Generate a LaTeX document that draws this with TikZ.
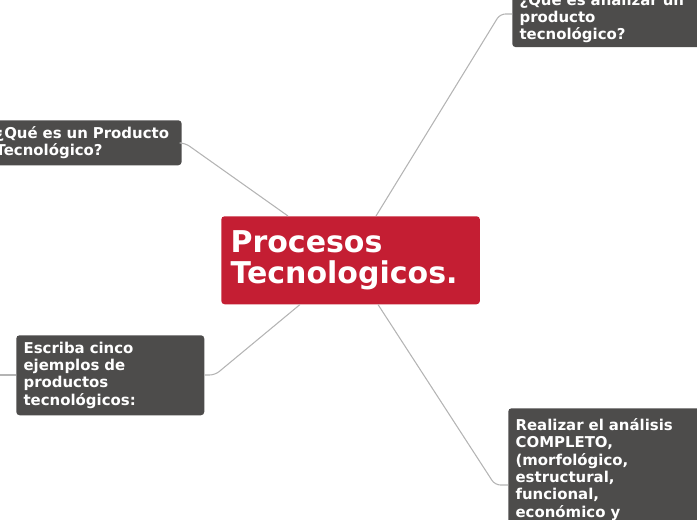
\documentclass[tikz,border=0pt]{standalone}
\usepackage{fontspec}
\setmainfont{DejaVu Sans}
\begin{document}
\begin{tikzpicture}[x=0.75pt,y=-0.75pt,
  sub/.style={fill=boxgray,rounded corners=2.5pt,text=white,font=\bfseries\fontsize{11.2pt}{13pt}\selectfont,align=left,anchor=north west,inner xsep=5.5pt,inner ysep=3pt},
  conn/.style={draw=linegray,line width=0.8pt,rounded corners=4pt}]
\definecolor{boxgray}{HTML}{4D4C4B}
\definecolor{linegray}{HTML}{B4B4B4}
\definecolor{mainred}{HTML}{C41E33}
\useasboundingbox (0,0) rectangle (697,520);
\clip (0,0) rectangle (697,520);
\node[fill=mainred,rounded corners=2.5pt,minimum width=256*0.75pt,minimum height=88*0.75pt,anchor=north west,text=white,font=\bfseries\fontsize{22.5pt}{23.5pt}\selectfont,align=left,inner xsep=7pt,inner ysep=0pt] (c) at (221,216) {\begin{minipage}{180pt}Procesos\\Tecnologicos.\end{minipage}};
\node[sub,text width=134pt,minimum height=56*0.75pt] (tr) at (512,-11) {¿Qué es analizar un\\producto\\tecnológico?};
\node[sub,text width=134pt,minimum height=45*0.75pt] (l) at (-12,120) {\mbox{¿Qué es un Producto}\\Tecnológico?};
\node[sub,text width=130pt,minimum height=80*0.75pt] (bl) at (16,335) {Escriba cinco\\ejemplos de\\productos\\tecnológicos:};
\node[sub,text width=134pt,minimum height=140*0.75pt] (br) at (508,408) {Realizar el análisis\\COMPLETO,\\(morfológico,\\estructural,\\funcional,\\económico y\\ecológico)};
\draw[conn] (c.north west)++(155,0) -- (500,14) -- (tr.west|-0,14);
\draw[conn] (c.north west)++(67,0) -- (185,143) -- (l.east|-0,143);
\draw[conn] (c.south west)++(79,0) -- (215,375) -- (bl.east|-0,375);
\draw[conn] (0,375) -- (bl.west|-0,375);
\draw[conn] (c.south west)++(157,0) -- (495,485) -- (br.west|-0,485);
\end{tikzpicture}
\end{document}
